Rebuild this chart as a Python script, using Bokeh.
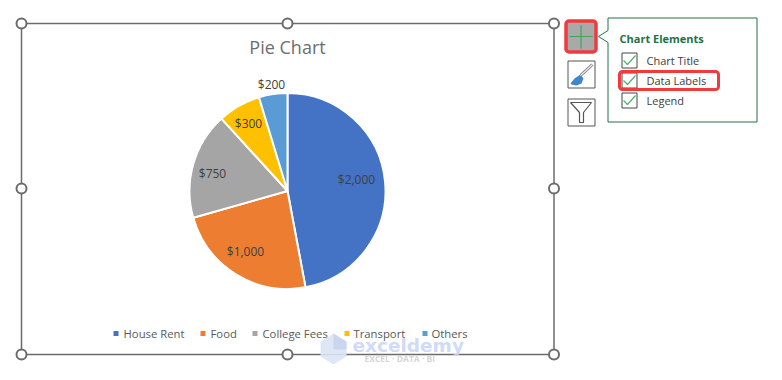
import math
from bokeh.plotting import figure
from bokeh.models import ColumnDataSource
from bokeh.core.properties import value
from bokeh.embed import file_html
from bokeh.resources import INLINE

categories = ["House Rent", "Food", "College Fees", "Transport", "Others"]
amounts = [2000, 1000, 750, 300, 200]
amount_labels = ["$2,000", "$1,000", "$750", "$300", "$200"]
colors = ["#4472C4", "#ED7D31", "#A5A5A5", "#FFC000", "#5B9BD5"]
menu_items = ["Chart Title", "Data Labels", "Legend"]

FONT = "Open Sans"
W, H = 766, 364
p = figure(width=W, height=H, x_range=(0, W), y_range=(H, 0),
           output_backend="svg", toolbar_location=None, min_border=0)
p.axis.visible = False
p.grid.visible = False
p.outline_line_color = None
p.background_fill_color = "white"
p.border_fill_color = "white"


def text(x, y, s, size, color="#595959", align="left", style="normal", alpha=1.0, font=FONT):
    p.text([x], [y], text=[s], text_font=value(font), text_font_size=f"{size}px",
           text_color=color, text_align=align, text_baseline="middle",
           text_font_style=style, text_alpha=alpha)


def rrect(x0, y0, x1, y1, **kw):
    p.rect([(x0 + x1) / 2], [(y0 + y1) / 2], width=x1 - x0, height=y1 - y0, **kw)


def rquad(x0, y0, x1, y1, **kw):
    p.quad(left=[x0], right=[x1], top=[y0], bottom=[y1], **kw)


# chart frame and handles
rrect(21, 23, 553.5, 354, fill_color="white", line_color="#6B6B6B", line_width=1.5)
hx = [21, 287, 553.5, 21, 553.5, 21, 287, 553.5]
hy = [23, 23, 23, 188, 188, 354, 354, 354]
p.scatter(hx, hy, size=10, fill_color="white", line_color="#6B6B6B", line_width=2)

# title
text(287, 46.5, "Pie Chart", 18, color="#6E6E6E", align="center")

# pie: clockwise from twelve o'clock
cx, cy, r = 287, 190.5, 98
total = sum(amounts)
starts, ends, acc = [], [], 0
for v in amounts:
    starts.append(math.pi / 2 - 2 * math.pi * acc / total)
    acc += v
    ends.append(math.pi / 2 - 2 * math.pi * acc / total)
src = ColumnDataSource(dict(start=starts, end=ends, color=colors, cat=categories, amt=amounts))
p.wedge(x=cx, y=cy, radius=r, start_angle="start", end_angle="end",
        direction="clock", fill_color="color", line_color="white",
        line_width=2, source=src)

# data labels
lx = [356, 245, 212, 248, 271]
ly = [179, 251, 173, 123, 84]
p.text(lx, ly, text=amount_labels, text_font=value(FONT), text_font_size="12px",
       text_color="#404040", text_align="center", text_baseline="middle")

# legend
sq_x = [115.5, 202.5, 254.5, 346.5, 424.5]
tx_x = [123, 210, 262, 353, 431]
p.scatter(sq_x, [333] * 5, marker="square", size=5, fill_color=colors, line_color=None)
p.text(tx_x, [333] * 5, text=categories, text_font=value(FONT), text_font_size="11.3px",
       text_color="#595959", text_align="left", text_baseline="middle")

# watermark
p.patch([320, 333, 346, 346, 333, 320], [341, 333, 341, 356, 364, 356], fill_color="#DCE4F5",
        line_color=None, fill_alpha=0.9)
p.patch([333, 346, 346, 333], [333, 341, 349, 349], fill_color="#C8D4EC", line_color=None, fill_alpha=0.9)
text(352, 345, "exceldemy", 18.5, color="#C9D6F7", style="bold", alpha=0.9, font="DejaVu Sans")
text(364, 358, "EXCEL  ·  DATA  ·  BI", 8.5, color="#D5D5D5", style="bold")

# side buttons
rquad(565.5, 20.5, 595.5, 51.5, fill_color="#A9A9A9", line_color="#EF3B3F", line_width=3.5,
      border_radius=3)
p.line([569, 592], [36, 36], line_color="#3FA65A", line_width=1.2)
p.line([580.5, 580.5], [25, 48], line_color="#3FA65A", line_width=1.2)
rrect(567.5, 60.5, 594.5, 87.5, fill_color="white", line_color="#555555", line_width=1)
rrect(567.5, 98.5, 594.5, 125.5, fill_color="white", line_color="#555555", line_width=1)
# brush
p.patch([570, 574, 580, 583, 581, 576, 571], [83, 78, 74, 78, 83, 85, 84], fill_color="#3F86D0", line_color=None)
p.line([580, 592], [75, 64], line_color="#777777", line_width=3)
p.line([580, 592], [75, 64], line_color="#EFEFEF", line_width=1.2)
# funnel
p.patch([570, 591, 583, 583, 579, 579], [102, 102, 112, 122, 122, 112], fill_color="white",
        line_color="#555555", line_width=1.2)

# popup
p.patch([607.5, 756.5, 756.5, 607.5, 607.5, 598, 607.5], [17.5, 17.5, 121.5, 121.5, 42, 36, 30],
        fill_color="white", line_color="#217346", line_width=1)
text(619, 37.5, "Chart Elements", 11, color="#217346", style="bold")
for i, s in enumerate(menu_items):
    y = 60 + 20 * i
    rrect(621.5, y - 7.5, 636.5, y + 7.5, fill_color="white", line_color="#444444", line_width=1)
    p.line([623, 627, 635], [y, y + 4, y - 5], line_color="#4CB56A", line_width=1.2)
    text(646, y, s, 11, color="#404040")
rquad(619, 71, 718, 89, fill_color=None, line_color="#EF3B3F", line_width=3, border_radius=3)

open("out.html", "w").write(file_html(p, INLINE))
